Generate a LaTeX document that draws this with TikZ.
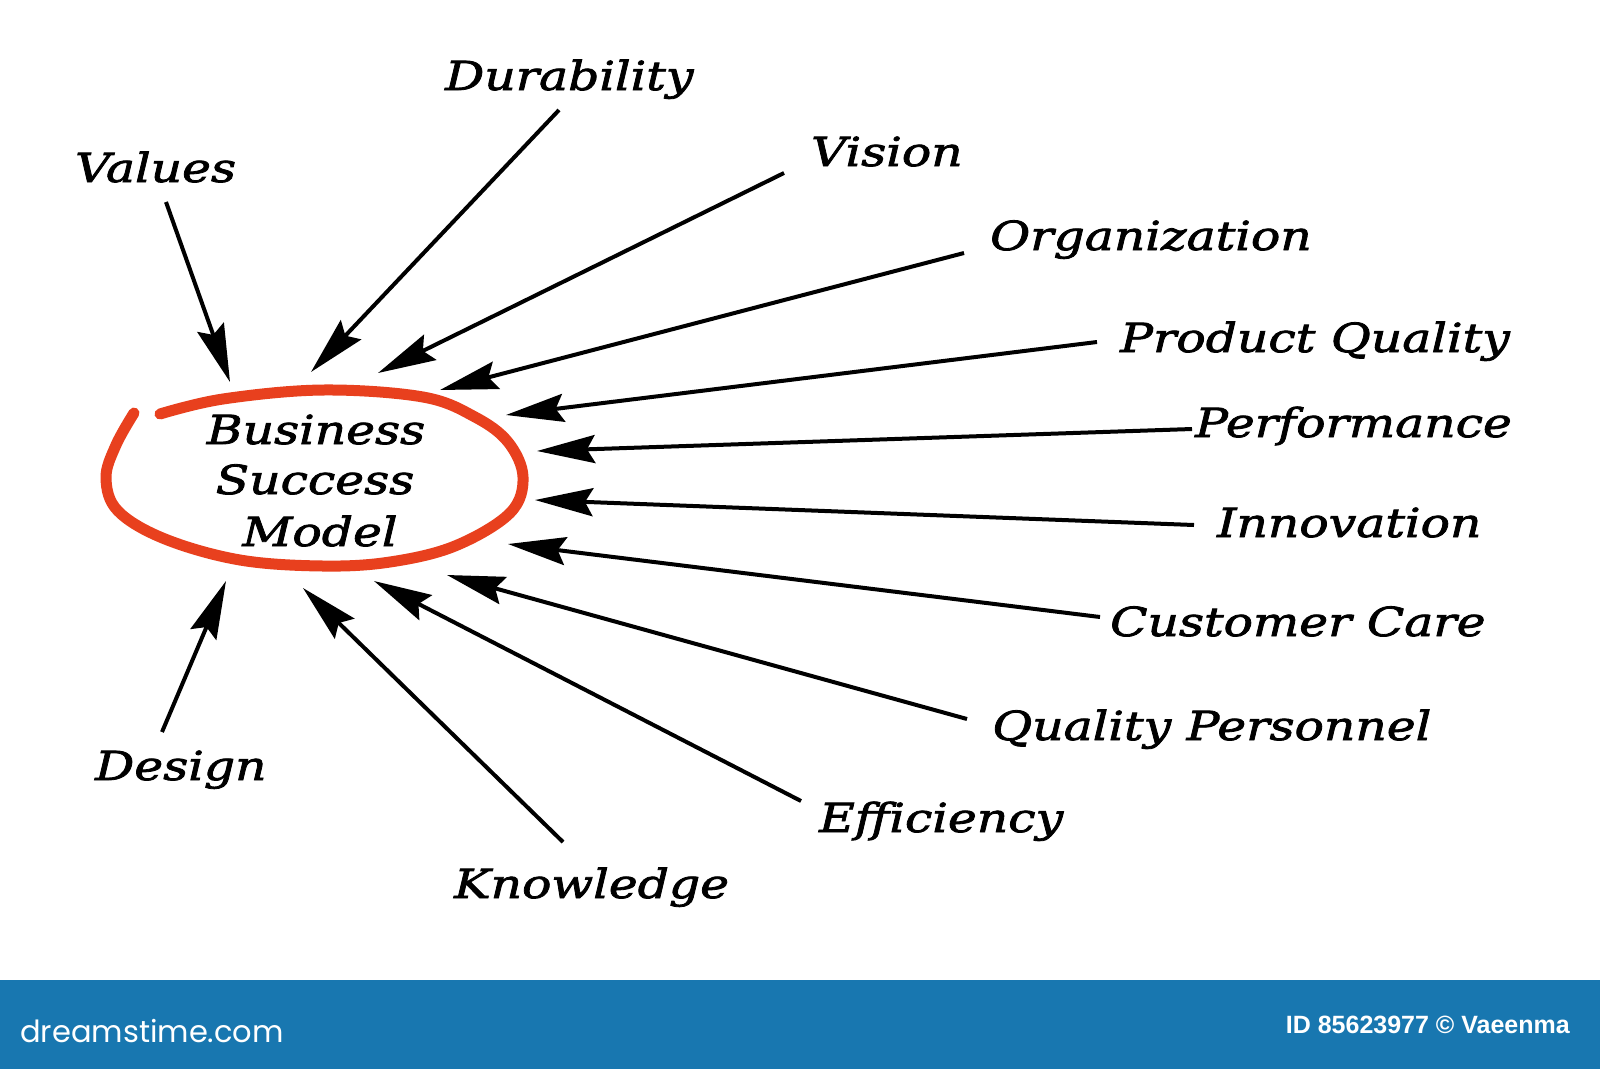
\documentclass[tikz,border=0pt]{standalone}
\usepackage{fontspec}
\newfontfamily\hand[FakeStretch=1.22,FakeBold=2]{DejaVu Serif}
\newfontfamily\logofont{Poppins}
\newfontfamily\idfont{Liberation Sans}
\usetikzlibrary{arrows.meta}
\definecolor{ringred}{RGB}{232,64,30}
\definecolor{barblue}{RGB}{24,119,176}
\begin{document}
\begin{tikzpicture}[x=1pt,y=-1pt,
  lbl/.style={anchor=base west, inner sep=0pt, font=\hand\itshape\fontsize{40}{51}\selectfont},
  mid/.style={anchor=base, inner sep=0pt, font=\hand\itshape\fontsize{40}{51}\selectfont},
  arr/.style={line width=4pt, -{Stealth[length=58pt,width=28pt,inset=8pt]}},
  ring/.style={draw=ringred, line width=11pt, line cap=round, line join=round}
]
\useasboundingbox (0,0) rectangle (1600,1069);
\fill[white] (0,0) rectangle (1600,1069);

% red hand-drawn ring
\draw[ring] plot[smooth, tension=0.6] coordinates {
  (160,414) (223,399) (323,390) (423,397) (475,417) (508,442) (523,477)
  (510,513) (455,546) (390,562) (323,566) (240,560) (165,539) (118,511)
  (106,478) (116,445) (134,413)};

% centre text
\node[mid] (bsm1) at (316,444) {Business};
\node[mid] (bsm2) at (315,494) {Success};
\node[mid] (bsm3) at (320,546) {Model};

% labels
\node[lbl] (values)      at (75,182)   {Values};
\node[lbl] (durability)  at (445,90)   {Durability};
\node[lbl] (vision)      at (811,166)  {Vision};
\node[lbl] (organization) at (990,250) {Organization};
\node[lbl] (productq)    at (1120,352) {Product Quality};
\node[lbl] (performance) at (1195,437) {Performance};
\node[lbl] (innovation)  at (1217,537) {Innovation};
\node[lbl] (customer)    at (1110,636) {Customer Care};
\node[lbl] (qualityp)    at (992,740)  {Quality Personnel};
\node[lbl] (efficiency)  at (819,832)  {Efficiency};
\node[lbl] (knowledge)   at (454,898)  {Knowledge};
\node[lbl] (design)      at (95,780)   {Design};

% arrow end points
\coordinate (t-values) at (166,202);       \coordinate (h-values) at (230,382);
\coordinate (t-durability) at (559,110);   \coordinate (h-durability) at (311,372);
\coordinate (t-vision) at (784,173);       \coordinate (h-vision) at (378,373);
\coordinate (t-organization) at (964,253); \coordinate (h-organization) at (440,390);
\coordinate (t-productq) at (1097,342);    \coordinate (h-productq) at (506,415);
\coordinate (t-performance) at (1192,429); \coordinate (h-performance) at (537,451);
\coordinate (t-innovation) at (1194,525);  \coordinate (h-innovation) at (535,500);
\coordinate (t-customer) at (1100,617);    \coordinate (h-customer) at (508,544);
\coordinate (t-qualityp) at (967,719);     \coordinate (h-qualityp) at (447,575);
\coordinate (t-efficiency) at (801,801);   \coordinate (h-efficiency) at (374,581);
\coordinate (t-knowledge) at (563,842);    \coordinate (h-knowledge) at (303,588);
\coordinate (t-design) at (162,732);       \coordinate (h-design) at (226,581);

\foreach \n in {values,durability,vision,organization,productq,performance,
                innovation,customer,qualityp,efficiency,knowledge,design}
  \draw[arr] (t-\n) -- (h-\n);

% bottom bar
\fill[barblue] (0,980) rectangle (1600,1069);
\node[anchor=base west, inner sep=0pt, text=white,
      font=\logofont\fontsize{30.5}{36}\selectfont] (logo) at (20,1042) {dreamstime.com};
\node[anchor=base east, inner sep=0pt, text=white,
      font=\idfont\bfseries\fontsize{25}{30}\selectfont] (imgid) at (1570,1033) {ID 85623977 © Vaeenma};
\end{tikzpicture}
\end{document}
